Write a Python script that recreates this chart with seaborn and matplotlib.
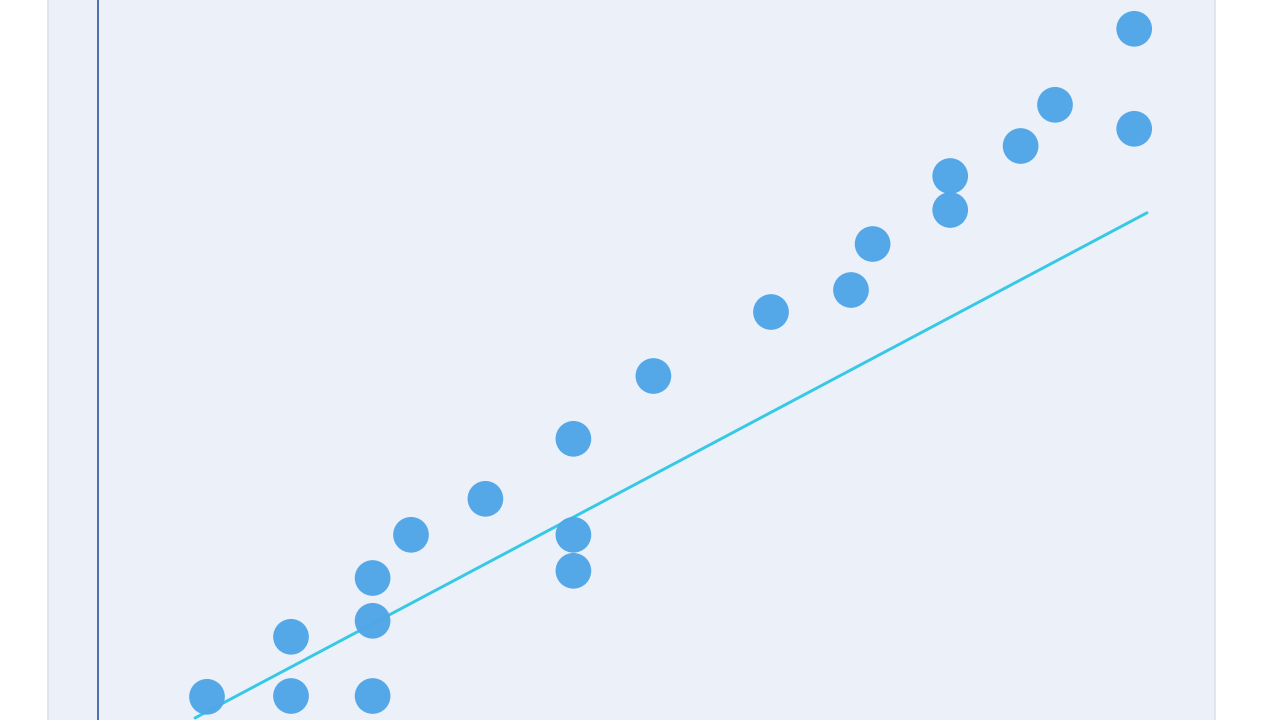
import matplotlib
matplotlib.use("Agg")
import matplotlib.pyplot as plt
import seaborn as sns
import pandas as pd

# Data (arbitrary units)
x_vals = [1.0, 2.05, 2.05, 3.07, 3.07, 3.07, 3.55, 4.48, 5.58, 5.58, 5.58,
          6.58, 8.05, 9.05, 9.32, 10.29, 10.29, 11.17, 11.6, 12.59, 12.59]
y_vals = [0.58, 2.08, 0.6, 3.55, 2.48, 0.6, 4.63, 5.53, 7.03, 4.63, 3.73,
          8.6, 10.2, 10.75, 11.9, 13.6, 12.75, 14.35, 15.38, 17.28, 14.78]
line_x = [0.85, 12.75]
line_y = [0.05, 12.68]

df = pd.DataFrame({"x": x_vals, "y": y_vals})
ldf = pd.DataFrame({"x": line_x, "y": line_y})

sns.set_theme(style="white")
fig = plt.figure(figsize=(12.8, 7.2), dpi=100)
fig.patch.set_facecolor("white")

W, H = 1280, 720
# background panel
bg = fig.add_axes([48 / W, -0.01, (1215 - 48) / W, 1.02], zorder=0)
bg.set_facecolor("#EBF0F9")
bg.set_xticks([])
bg.set_yticks([])
for s in bg.spines.values():
    s.set_color("#DDE2EA")
    s.set_linewidth(1.2)

ax = fig.add_axes([98 / W, 0, (1215 - 98) / W, 1], zorder=1)
ax.set_facecolor("none")

sns.lineplot(data=ldf, x="x", y="y", ax=ax, color="#36C8E4", linewidth=2.1, zorder=2)
sns.scatterplot(data=df, x="x", y="y", ax=ax, s=660, color="#4FA6E8",
                edgecolor="none", alpha=0.97, zorder=3)

ax.set_xlim(-0.3625, 13.6)
ax.set_ylim(0, 18)
ax.set_xticks([])
ax.set_yticks([])
ax.set_xlabel("")
ax.set_ylabel("")
for s in ["top", "right", "bottom"]:
    ax.spines[s].set_visible(False)
ax.spines["left"].set_color("#3F64A8")
ax.spines["left"].set_linewidth(1.3)

fig.savefig("out.png", dpi=100)
